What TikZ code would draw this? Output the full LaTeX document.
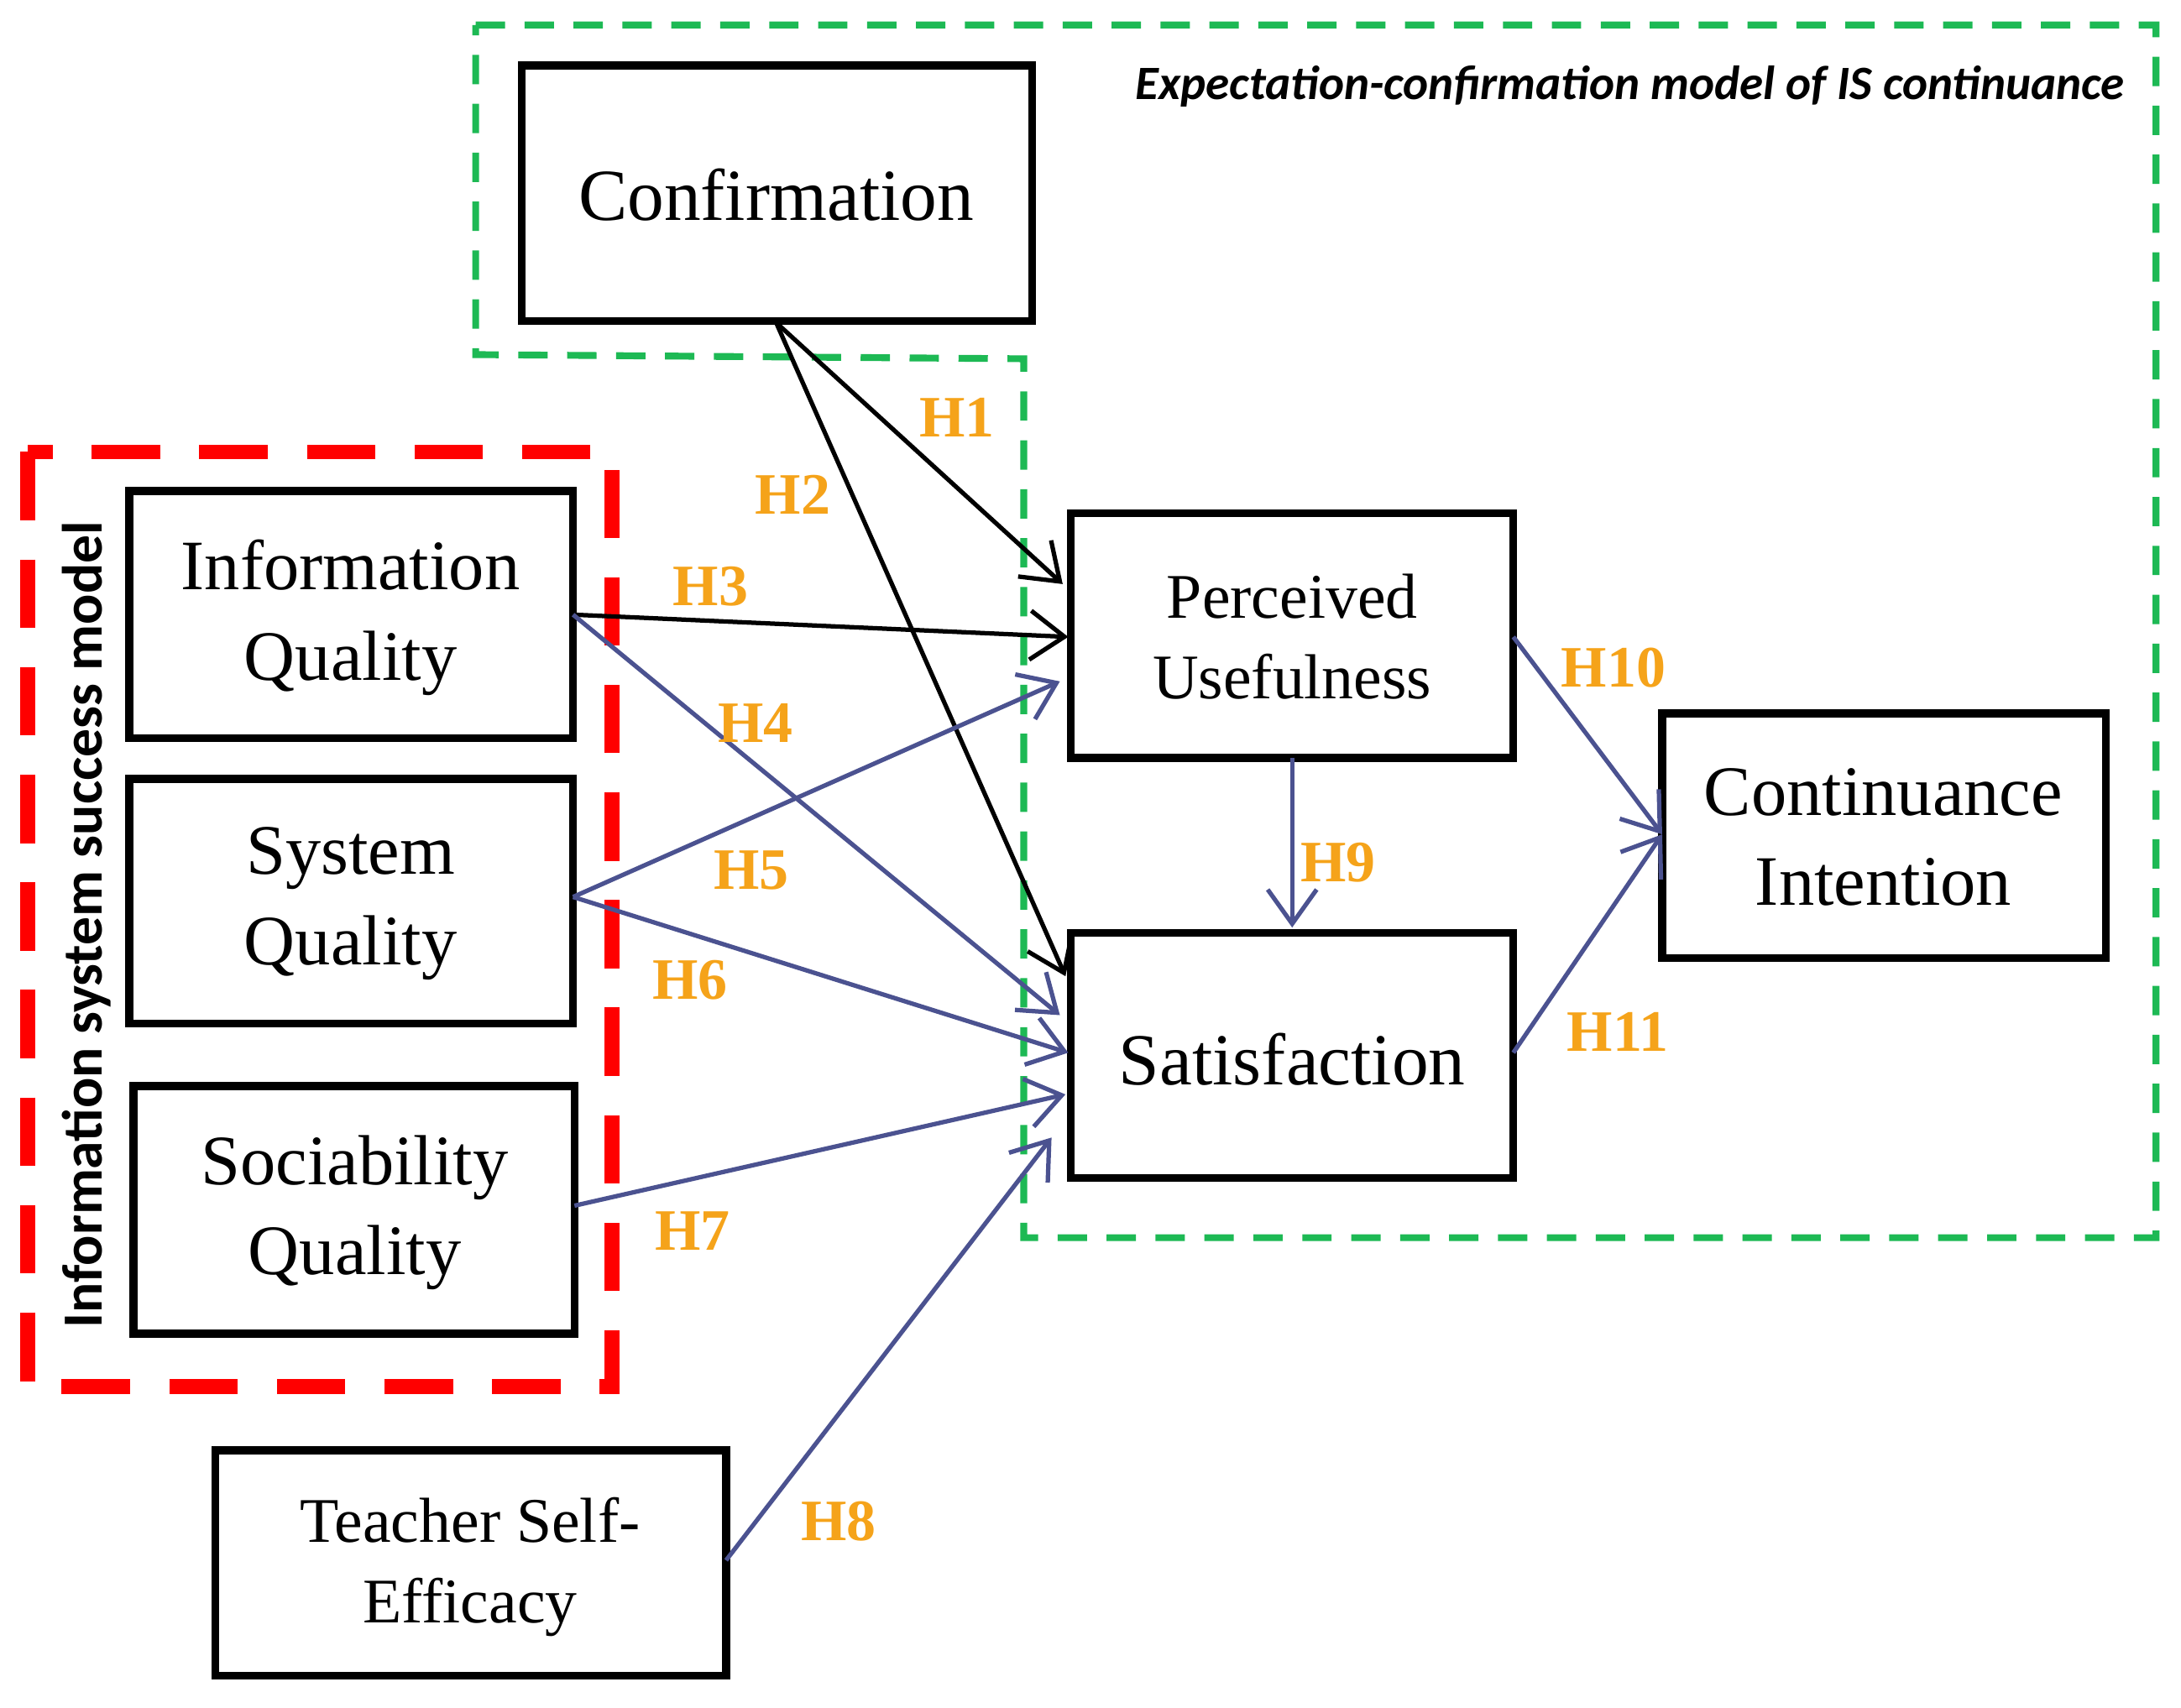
\documentclass[tikz,border=0pt]{standalone}
\usepackage{fontspec}
\setmainfont{Liberation Serif}
\newfontfamily\calib{Carlito}
\usetikzlibrary{arrows.meta}
\definecolor{arrblue}{HTML}{4B5290}
\definecolor{horange}{HTML}{F5A31A}
\definecolor{dgreen}{HTML}{1DB954}
\begin{document}
\begin{tikzpicture}[x=0.01cm,y=-0.01cm,
  bx/.style={line width=1.6pt},
  big/.style={align=center,font=\fontsize{14.5}{18.5}\selectfont},
  mid/.style={align=center,font=\fontsize{13}{16.5}\selectfont},
  hl/.style={text=horange,font=\bfseries\fontsize{12}{12}\selectfont},
  ar/.style={line width=0.9pt,-{Straight Barb[length=7pt,width=10pt]}},
  bl/.style={ar,arrblue}]
\useasboundingbox (0,0) rectangle (1568,1228);
\draw[dgreen,line width=1.4pt,dash pattern=on 6pt off 4pt] (342,18) -- (1550,18) -- (1550,890) -- (736,890) -- (736,258) -- (342,255) -- cycle;
\draw[red,line width=3pt,dash pattern=on 14pt off 8pt] (20,325) rectangle (440,997);
\node[rotate=90,font=\calib\bfseries\fontsize{11.6}{12}\selectfont] (ism) at (62,665) {Information system success model};
\node[font=\calib\bfseries\itshape\fontsize{9.8}{10}\selectfont] (ttl) at (1172,62) {Expectation-confirmation model of IS continuance};
\draw[bx] (375,47) rectangle (742,231);
\node[big,font=\fontsize{15}{18}\selectfont] (conf) at (558,140) {Confirmation};
\draw[bx] (93,353) rectangle (412,531);
\node[big] (iq) at (252,444) {Information\\Quality};
\draw[bx] (93,560) rectangle (412,736);
\node[big] (sq) at (252,650) {System\\Quality};
\draw[bx] (96,781) rectangle (413,959);
\node[big] (soc) at (255,872) {Sociability\\Quality};
\draw[bx] (155,1043) rectangle (522,1205);
\node[mid] (tse) at (338,1127) {Teacher Self-\\Efficacy};
\draw[bx] (770,369) rectangle (1088,545);
\node[mid] (pu) at (929,458) {Perceived\\Usefulness};
\draw[bx] (770,671) rectangle (1088,847);
\node[big,font=\fontsize{15}{18}\selectfont] (sat) at (929,762) {Satisfaction};
\draw[bx] (1195,513) rectangle (1514,689);
\node[big] (ci) at (1354,602) {Continuance\\Intention};
\coordinate (cb) at (558,232);
\coordinate (iqr) at (412,442);
\coordinate (sqr) at (412,645);
\coordinate (socr) at (413,867);
\coordinate (tser) at (522,1122);
\coordinate (pub) at (929,545);
\coordinate (pur) at (1088,458);
\coordinate (satr) at (1088,757);
\coordinate (cil) at (1195,600);
\draw[ar] (cb) -- (764,420);
\draw[ar] (cb) -- (766,702);
\draw[ar] (iqr) -- (768,458);
\draw[bl] (iqr) -- (762,730);
\draw[bl] (sqr) -- (762,490);
\draw[bl] (sqr) -- (768,757);
\draw[bl] (socr) -- (766,787);
\draw[bl] (tser) -- (756,818);
\draw[bl] (pub) -- (929,667);
\draw[bl] (pur) -- (cil);
\draw[bl] (satr) -- (cil);
\node[hl] (h1) at (688,300) {H1};
\node[hl] (h2) at (570,356) {H2};
\node[hl] (h3) at (511,422) {H3};
\node[hl] (h4) at (543,520) {H4};
\node[hl] (h5) at (540,626) {H5};
\node[hl] (h6) at (496,705) {H6};
\node[hl] (h7) at (498,885) {H7};
\node[hl] (h8) at (603,1094) {H8};
\node[hl] (h9) at (962,620) {H9};
\node[hl] (h10) at (1160,480) {H10};
\node[hl] (h11) at (1163,742) {H11};
\end{tikzpicture}
\end{document}
